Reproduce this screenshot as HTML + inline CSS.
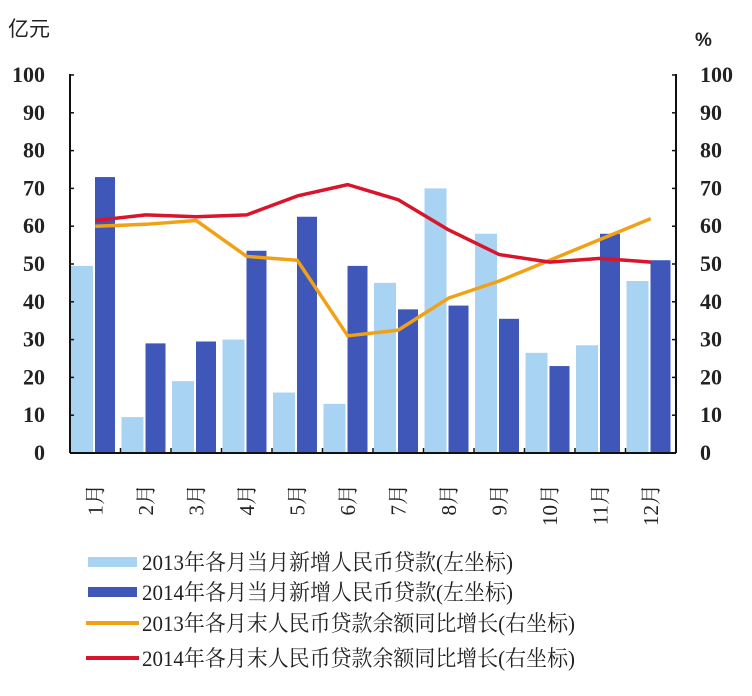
<!DOCTYPE html>
<html><head><meta charset="utf-8"><style>
body{margin:0;background:#fff;}
svg{display:block;font-family:"Liberation Serif","Noto Serif CJK SC",serif;}
</style></head><body>
<svg id="c" width="752" height="696" viewBox="0 0 752 696"></svg>
<script>
const categories=["1月","2月","3月","4月","5月","6月","7月","8月","9月","10月","11月","12月"];
const loans2013=[49.5,9.5,19,30,16,13,45,70,58,26.5,28.5,45.5];
const loans2014=[73,29,29.5,53.5,62.5,49.5,38,39,35.5,23,58,51];
const growth2013=[60,60.5,61.5,52,51,31,32.5,41,45.5,51,56.5,62];
const growth2014=[61.5,63,62.5,63,68,71,67,59,52.5,50.5,51.5,50.5];
const ticks=[0,10,20,30,40,50,60,70,80,90,100];
const NS="http://www.w3.org/2000/svg";
const svg=document.getElementById('c');
const X0=70,X1=676,Y0=453,Y1=75;
const bw=(X1-X0)/categories.length;
function y(v){return Y0-(v/100)*(Y0-Y1);}
function xc(i){return X0+bw*i;}
function mk(t,a,p){const e=document.createElementNS(NS,t);for(const k in a)e.setAttribute(k,a[k]);(p||svg).appendChild(e);return e;}
categories.forEach((c,i)=>{
 const b1=mk('rect',{x:xc(i)+1,y:y(loans2013[i]),width:22,height:Y0-y(loans2013[i]),fill:'#a9d3f3'});
 
 
 const b2=mk('rect',{x:xc(i)+25,y:y(loans2014[i]),width:20,height:Y0-y(loans2014[i]),fill:'#3f57b8'});
 
 
});
function line(arr,col,name){
 const pts=arr.map((v,i)=>(xc(i)+bw/2)+','+y(v)).join(' ');
 const l=mk('polyline',{points:pts,fill:'none',stroke:col,'stroke-width':3.5,'stroke-linejoin':'round'});
 
 
}
line(growth2013,'#f0a116','line-growth-2013');
line(growth2014,'#d8152a','line-growth-2014');
mk('line',{x1:X0,y1:Y1-1,x2:X0,y2:Y0,stroke:'#111','stroke-width':2});
mk('line',{x1:X1,y1:Y1-1,x2:X1,y2:Y0,stroke:'#111','stroke-width':2});
mk('line',{x1:X0,y1:Y0,x2:X1,y2:Y0,stroke:'#111','stroke-width':2});
ticks.forEach(t=>{
 mk('line',{x1:X0,y1:y(t),x2:X0+4,y2:y(t),stroke:'#111','stroke-width':1.5});
 mk('line',{x1:X1-4,y1:y(t),x2:X1,y2:y(t),stroke:'#111','stroke-width':1.5});
 const a=mk('text',{x:45,y:y(t)+7,'text-anchor':'end','font-size':22,'font-weight':'bold',fill:'#222'});a.textContent=t;
 
 
 const b=mk('text',{x:700,y:y(t)+7,'font-size':22,'font-weight':'bold',fill:'#222'});b.textContent=t;
 
 
});
categories.forEach((c,i)=>{
 if(i>0)mk('line',{x1:xc(i),y1:Y0,x2:xc(i),y2:Y0-5,stroke:'#111','stroke-width':1.5});
 const cx=xc(i)+bw/2;
 const t=mk('text',{x:0,y:0,'text-anchor':'end','font-size':21,fill:'#222',transform:`translate(${cx+7},484) rotate(-90)`});
 t.textContent=c;
 
 
});
</script>
<script>
(function(){
const NS="http://www.w3.org/2000/svg";const svg=document.getElementById('c');
function mk(t,a){const e=document.createElementNS(NS,t);for(const k in a)e.setAttribute(k,a[k]);svg.appendChild(e);return e;}
const u=mk('text',{x:8,y:36,'font-size':21,'font-family':'"Liberation Sans","Noto Sans CJK SC",sans-serif',fill:'#222'});u.textContent='亿元';


const p=mk('text',{x:695,y:46,'font-size':19,'font-weight':'bold','font-family':'"Liberation Sans",sans-serif',fill:'#222'});p.textContent='%';


const items=[['rect','#a9d3f3','2013年各月当月新增人民币贷款(左坐标)',562],['rect','#3f57b8','2014年各月当月新增人民币贷款(左坐标)',592],['line','#f0a116','2013年各月末人民币贷款余额同比增长(右坐标)',623],['line','#d8152a','2014年各月末人民币贷款余额同比增长(右坐标)',658]];
items.forEach((it,i)=>{
 let s;
 if(it[0]==='rect')s=mk('rect',{x:88,y:it[3]-5,width:49,height:10,fill:it[1]});
 else s=mk('line',{x1:86,y1:it[3],x2:139,y2:it[3],stroke:it[1],'stroke-width':4});
 
 
 const t=mk('text',{x:142,y:it[3]+8,'font-size':22,fill:'#222',textLength:it[0]==='rect'?371:433,lengthAdjust:'spacingAndGlyphs'});
 t.textContent=it[2];
 
 
});
})();
</script>
</body></html>
